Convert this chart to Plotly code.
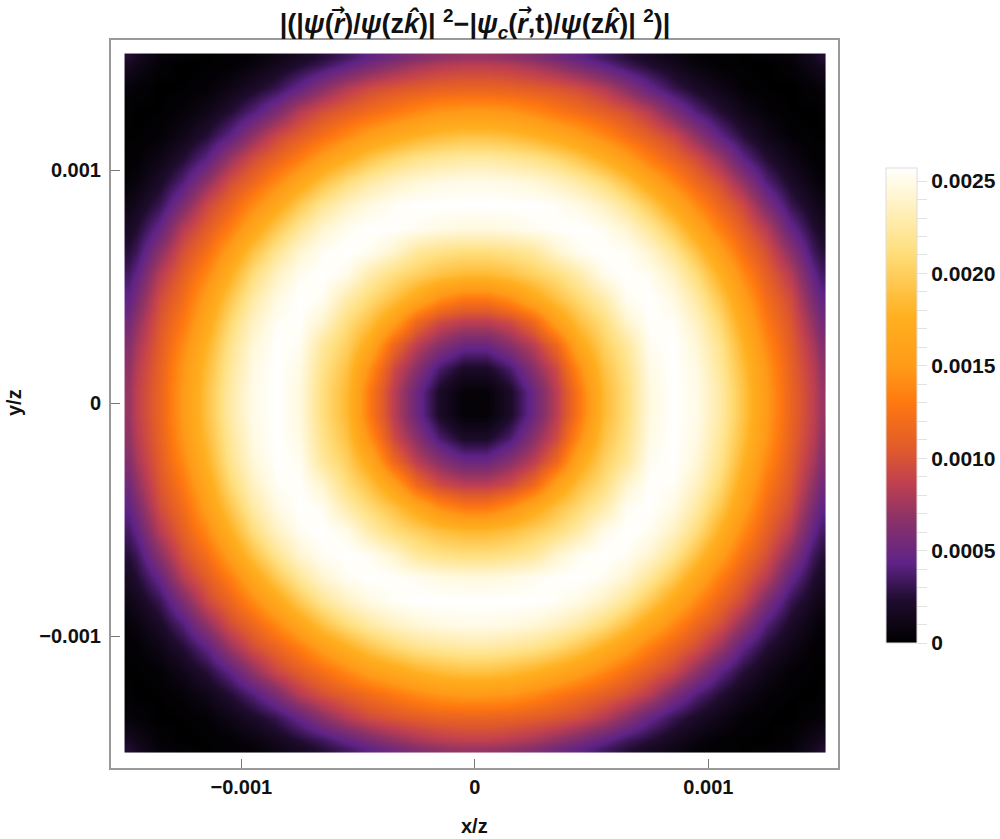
import plotly.graph_objects as go

# Cell centres of the density image (the last one sits just inside the image edge)
AXIS_POSITIVE = [0.00005, 0.00015, 0.00025, 0.00035, 0.00045, 0.00055, 0.00065, 0.00075,
                 0.00085, 0.00095, 0.00105, 0.00115, 0.00125, 0.00135, 0.00145, 0.0014833]

# Values, in units of 1e-5, for one quadrant going outward from the centre
Q00 = [4, 20, 50, 85, 129, 184, 212, 247, 257, 250, 226, 190, 150, 113, 86, 72]
Q01 = [20, 36, 65, 94, 143, 190, 216, 249, 257, 248, 222, 186, 147, 111, 83, 69]
Q02 = [50, 65, 85, 116, 167, 201, 223, 253, 257, 244, 217, 178, 139, 107, 77, 63]
Q03 = [85, 94, 116, 157, 190, 212, 241, 256, 254, 237, 207, 167, 129, 102, 68, 54]
Q04 = [129, 143, 167, 190, 209, 229, 253, 257, 248, 226, 193, 155, 119, 95, 57, 45]
Q05 = [184, 190, 201, 212, 229, 251, 257, 253, 237, 211, 175, 139, 109, 83, 45, 35]
Q06 = [212, 216, 223, 241, 253, 257, 254, 242, 220, 190, 155, 122, 98, 66, 33, 26]
Q07 = [247, 249, 253, 256, 257, 253, 242, 222, 196, 164, 132, 107, 83, 47, 24, 18]
Q08 = [257, 257, 257, 254, 248, 237, 220, 196, 167, 139, 113, 92, 59, 31, 15, 11]
Q09 = [250, 248, 244, 237, 226, 211, 190, 164, 139, 115, 96, 68, 39, 20, 7, 4]
Q10 = [226, 222, 217, 207, 193, 175, 155, 132, 113, 96, 72, 43, 24, 11, 2, 2]
Q11 = [190, 186, 178, 167, 155, 139, 122, 107, 92, 68, 43, 25, 12, 3, 1, 1]
Q12 = [150, 147, 139, 129, 119, 109, 98, 83, 59, 39, 24, 12, 4, 1, 0, 2]
Q13 = [113, 111, 107, 102, 95, 83, 66, 47, 31, 20, 11, 3, 1, 0, 3, 5]
Q14 = [86, 83, 77, 68, 57, 45, 33, 24, 15, 7, 2, 1, 0, 3, 12, 16]
Q15 = [72, 69, 63, 54, 45, 35, 26, 18, 11, 4, 2, 1, 2, 5, 16, 24]
QUADRANT = [Q00, Q01, Q02, Q03, Q04, Q05, Q06, Q07, Q08, Q09, Q10, Q11, Q12, Q13, Q14, Q15]

COLOR_STOPS = [
    [0.0, "#000000"], [0.09, "#1f0c2e"], [0.168, "#5e2387"], [0.267, "#8f3366"],
    [0.337, "#c04050"], [0.407, "#e05a2c"], [0.505, "#ff7810"], [0.58, "#ff9a18"],
    [0.688, "#ffb020"], [0.828, "#ffe080"], [0.97, "#fffbe6"], [1.0, "#ffffff"],
]

BAR_TICK_VALUES = [0, 10, 20, 30, 40, 50, 60, 70, 80, 90, 100, 110, 120, 130, 140, 150,
                   160, 170, 180, 190, 200, 210, 220, 230, 240, 250]
BAR_TICK_TEXT = ["<b>0</b>", "", "", "", "", "<b>0.0005</b>", "", "", "", "", "<b>0.0010</b>",
                 "", "", "", "", "<b>0.0015</b>", "", "", "", "", "<b>0.0020</b>", "", "", "", "",
                 "<b>0.0025</b>"]

TICK_VALUES = [-0.001, 0, 0.001]
TICK_TEXT = ["−0.001", "0", "0.001"]

FONT = "Liberation Sans"
GRAY = "#999999"
INK = "#111111"

axis_points = [-v for v in reversed(AXIS_POSITIVE)] + AXIS_POSITIVE
half_rows = [list(reversed(row)) + row for row in QUADRANT]
z_grid = list(reversed(half_rows)) + half_rows

fig = go.Figure(go.Heatmap(
    x=axis_points, y=axis_points, z=z_grid,
    zmin=0, zmax=257, zsmooth="best",
    colorscale=COLOR_STOPS,
    colorbar=dict(
        thickness=31, thicknessmode="pixels",
        len=475, lenmode="pixels",
        x=1.066, xanchor="left", xpad=0,
        y=0.824, yanchor="top", ypad=0,
        outlinewidth=1, outlinecolor="#dddddd",
        tickmode="array", tickvals=BAR_TICK_VALUES, ticktext=BAR_TICK_TEXT,
        ticks="outside", ticklen=10, tickcolor="#e2e2e2", tickwidth=1,
        tickfont=dict(family=FONT, size=21, color=INK),
    ),
))

axis_common = dict(
    tickmode="array", tickvals=TICK_VALUES, ticktext=TICK_TEXT,
    ticks="inside", ticklen=9, tickwidth=1, tickcolor="#777777",
    automargin=False,
    showline=True, linecolor=GRAY, linewidth=2, mirror=True,
    showgrid=False, zeroline=False,
    tickfont=dict(family=FONT, size=20, color=INK, weight=700),
)
label_font = dict(family=FONT, size=20, color=INK, weight=700)

fig.update_layout(
    width=1000, height=839, autosize=False,
    margin=dict(l=111, r=162, t=40, b=71, autoexpand=False),
    paper_bgcolor="white", plot_bgcolor="white",
    title=dict(
        text="|(|<i>ψ</i>(<i>r</i>)/<i>ψ</i>(z<i>k̂</i>)| <sup>2</sup>−|<i>ψ</i><sub><i>c</i></sub>(<i>r</i>,t)/<i>ψ</i>(z<i>k̂</i>)| <sup>2</sup>)|",
        font=dict(family=FONT, size=27, color=INK, weight=700),
        x=0.475, xanchor="center", y=0.972, yanchor="middle",
    ),
    xaxis=dict(range=[-0.001558, 0.001555], ticklabelstandoff=0, **axis_common),
    yaxis=dict(range=[-0.001566, 0.001558], ticklabelstandoff=4, **axis_common),
    annotations=[
        dict(text="<b>→</b>", xref="paper", yref="paper", x=0.312, y=1.042, showarrow=False,
             xanchor="center", yanchor="middle",
             font=dict(family="DejaVu Sans", size=17, color=INK)),
        dict(text="<b>→</b>", xref="paper", yref="paper", x=0.5695, y=1.042, showarrow=False,
             xanchor="center", yanchor="middle",
             font=dict(family="DejaVu Sans", size=17, color=INK)),
        dict(text="x/z", xref="paper", yref="paper", x=0.4999, y=-0.0797, showarrow=False,
             xanchor="center", yanchor="middle", font=label_font),
        dict(text="y/z", xref="paper", yref="paper", x=-0.1334, y=0.5014, showarrow=False,
             xanchor="center", yanchor="middle", textangle=-90, font=label_font),
    ],
)

fig.write_html("out.html", config=dict(displayModeBar=False),
               post_script="document.body.style.margin='0';")
